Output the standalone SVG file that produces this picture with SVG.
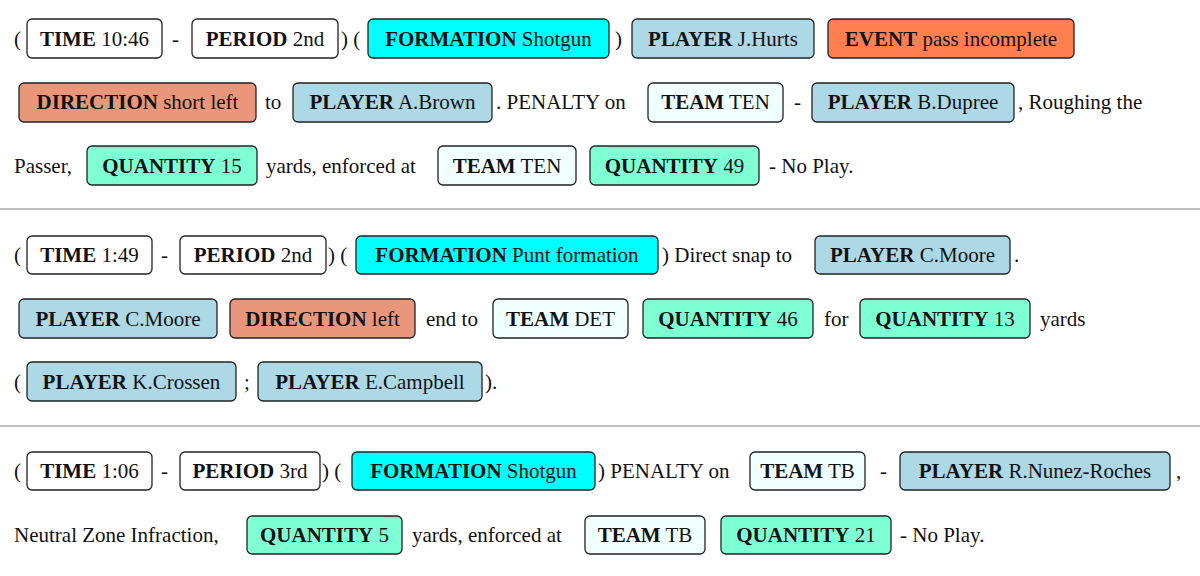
<svg xmlns="http://www.w3.org/2000/svg" width="1200" height="576" viewBox="0 0 1200 576">
<style>
text{font-family:"Liberation Serif","Times New Roman",serif;font-size:21px;fill:#111}
.b{font-weight:bold}
rect{stroke:#222;stroke-width:1.3;rx:5;ry:5}
.w{fill:#fff}.c{fill:#00ffff}.p{fill:#add8e6}.e{fill:#ff7f50}.d{fill:#e9967a}.q{fill:#7fffd4}.t{fill:#f0ffff}
.n text{text-anchor:middle}
</style>
<rect x="0" y="0" width="1200" height="576" style="fill:#fff;stroke:none"/>
<g id="separators"><line x1="0" y1="209" x2="1200" y2="209" stroke="#aaa" stroke-width="1.5"/><line x1="0" y1="426" x2="1200" y2="426" stroke="#aaa" stroke-width="1.5"/></g>
<g id="connectors"/>
<g id="plain">
<text x="14" y="46">(</text><text x="172" y="46">-</text><text x="341" y="46">) (</text><text x="615" y="46">)</text>
<text x="265" y="109">to</text><text x="496" y="109">. PENALTY on</text><text x="794" y="109">-</text><text x="1018" y="109">, Roughing the</text>
<text x="14" y="173">Passer,</text><text x="266" y="173">yards, enforced at</text><text x="769" y="173">- No Play.</text>
<text x="14" y="262">(</text><text x="161" y="262">-</text><text x="328" y="262">) (</text><text x="662" y="262">) Direct snap to</text><text x="1014" y="262">.</text>
<text x="426" y="326">end to</text><text x="824" y="326">for</text><text x="1040" y="326">yards</text>
<text x="14" y="389">(</text><text x="244" y="389">;</text><text x="485" y="389">).</text>
<text x="14" y="478">(</text><text x="161" y="478">-</text><text x="322" y="478">) (</text><text x="598" y="478">) PENALTY on</text><text x="880" y="478">-</text><text x="1176" y="478">,</text>
<text x="14" y="542">Neutral Zone Infraction,</text><text x="412" y="542">yards, enforced at</text><text x="900" y="542">- No Play.</text>
</g>
<g class="n">
<g id="n1"><rect class="w" x="27" y="19" width="135" height="39"/><text x="94.5" y="46"><tspan class="b">TIME</tspan> 10:46</text></g>
<g id="n2"><rect class="w" x="192" y="19" width="146" height="39"/><text x="265" y="46"><tspan class="b">PERIOD</tspan> 2nd</text></g>
<g id="n3"><rect class="c" x="368" y="19" width="241" height="39"/><text x="488.5" y="46"><tspan class="b">FORMATION</tspan> Shotgun</text></g>
<g id="n4"><rect class="p" x="632" y="19" width="182" height="39"/><text x="723" y="46"><tspan class="b">PLAYER</tspan> J.Hurts</text></g>
<g id="n5"><rect class="e" x="828" y="19" width="246" height="39"/><text x="951" y="46"><tspan class="b">EVENT</tspan> pass incomplete</text></g>
<g id="n6"><rect class="d" x="19" y="83" width="237" height="39"/><text x="137.5" y="109"><tspan class="b">DIRECTION</tspan> short left</text></g>
<g id="n7"><rect class="p" x="293" y="83" width="199" height="39"/><text x="392.5" y="109"><tspan class="b">PLAYER</tspan> A.Brown</text></g>
<g id="n8"><rect class="t" x="648" y="83" width="135" height="39"/><text x="715.5" y="109"><tspan class="b">TEAM</tspan> TEN</text></g>
<g id="n9"><rect class="p" x="812" y="83" width="202" height="39"/><text x="913" y="109"><tspan class="b">PLAYER</tspan> B.Dupree</text></g>
<g id="n10"><rect class="q" x="87" y="146" width="170" height="39"/><text x="172" y="173"><tspan class="b">QUANTITY</tspan> 15</text></g>
<g id="n11"><rect class="t" x="438" y="146" width="138" height="39"/><text x="507" y="173"><tspan class="b">TEAM</tspan> TEN</text></g>
<g id="n12"><rect class="q" x="590" y="146" width="169" height="39"/><text x="674.5" y="173"><tspan class="b">QUANTITY</tspan> 49</text></g>
<g id="n13"><rect class="w" x="27" y="236" width="125" height="38"/><text x="89.5" y="262"><tspan class="b">TIME</tspan> 1:49</text></g>
<g id="n14"><rect class="w" x="180" y="236" width="146" height="38"/><text x="253" y="262"><tspan class="b">PERIOD</tspan> 2nd</text></g>
<g id="n15"><rect class="c" x="356" y="236" width="302" height="38"/><text x="507" y="262"><tspan class="b">FORMATION</tspan> Punt formation</text></g>
<g id="n16"><rect class="p" x="815" y="236" width="195" height="38"/><text x="912.5" y="262"><tspan class="b">PLAYER</tspan> C.Moore</text></g>
<g id="n17"><rect class="p" x="19" y="299" width="198" height="39"/><text x="118" y="326"><tspan class="b">PLAYER</tspan> C.Moore</text></g>
<g id="n18"><rect class="d" x="230" y="299" width="185" height="39"/><text x="322.5" y="326"><tspan class="b">DIRECTION</tspan> left</text></g>
<g id="n19"><rect class="t" x="493" y="299" width="135" height="39"/><text x="560.5" y="326"><tspan class="b">TEAM</tspan> DET</text></g>
<g id="n20"><rect class="q" x="643" y="299" width="170" height="39"/><text x="728" y="326"><tspan class="b">QUANTITY</tspan> 46</text></g>
<g id="n21"><rect class="q" x="860" y="299" width="170" height="39"/><text x="945" y="326"><tspan class="b">QUANTITY</tspan> 13</text></g>
<g id="n22"><rect class="p" x="27" y="362" width="209" height="39"/><text x="131.5" y="389"><tspan class="b">PLAYER</tspan> K.Crossen</text></g>
<g id="n23"><rect class="p" x="258" y="362" width="224" height="39"/><text x="370" y="389"><tspan class="b">PLAYER</tspan> E.Campbell</text></g>
<g id="n24"><rect class="w" x="27" y="452" width="125" height="38"/><text x="89.5" y="478"><tspan class="b">TIME</tspan> 1:06</text></g>
<g id="n25"><rect class="w" x="180" y="452" width="140" height="38"/><text x="250" y="478"><tspan class="b">PERIOD</tspan> 3rd</text></g>
<g id="n26"><rect class="c" x="352" y="452" width="243" height="38"/><text x="473.5" y="478"><tspan class="b">FORMATION</tspan> Shotgun</text></g>
<g id="n27"><rect class="t" x="750" y="452" width="115" height="38"/><text x="807.5" y="478"><tspan class="b">TEAM</tspan> TB</text></g>
<g id="n28"><rect class="p" x="900" y="452" width="270" height="38"/><text x="1035" y="478"><tspan class="b">PLAYER</tspan> R.Nunez-Roches</text></g>
<g id="n29"><rect class="q" x="247" y="516" width="155" height="38"/><text x="324.5" y="542"><tspan class="b">QUANTITY</tspan> 5</text></g>
<g id="n30"><rect class="t" x="585" y="516" width="120" height="38"/><text x="645" y="542"><tspan class="b">TEAM</tspan> TB</text></g>
<g id="n31"><rect class="q" x="721" y="516" width="170" height="38"/><text x="806" y="542"><tspan class="b">QUANTITY</tspan> 21</text></g>
</g>
</svg>
